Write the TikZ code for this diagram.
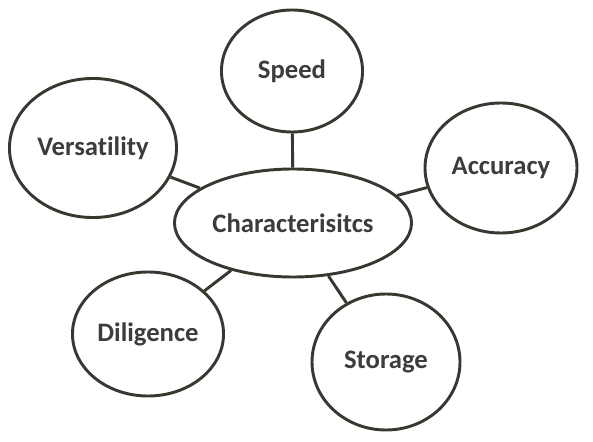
\documentclass[tikz,border=0pt]{standalone}
\usepackage{fontspec}
\setmainfont{Carlito}[Ligatures=NoCommon]
\usetikzlibrary{shapes.geometric}
\definecolor{rim}{RGB}{58,54,48}
\definecolor{ink}{RGB}{60,60,60}
\tikzset{
  bubble/.style={ellipse,draw=rim,line width=2.2pt,inner sep=0pt,
    font=\fontsize{20}{24}\selectfont\bfseries,text=ink},
  link/.style={draw=rim,line width=2.2pt}
}
\begin{document}
\begin{tikzpicture}[x=0.75pt,y=-0.75pt]
\useasboundingbox (0,0) rectangle (593,442);
\path
(293,223) node(c) [bubble,minimum width=177.8pt,minimum height=81pt] {Characterisitcs}
(292,71) node(speed) [bubble,minimum width=105.8pt,minimum height=91.5pt] {Speed}
(93,148) node(vers) [bubble,minimum width=125.3pt,minimum height=104.3pt] {Versatility}
(501,168) node(acc) [bubble,minimum width=114pt,minimum height=97.5pt] {Accuracy}
(148,334) node(dil) [bubble,minimum width=113.3pt,minimum height=93pt] {Diligence}
(386,362) node(stor) [bubble,minimum width=111pt,minimum height=102pt] {Storage};
\draw
(c) edge[link] (speed)
(c) edge[link] (vers)
(c) edge[link] (acc)
(c) edge[link] (dil)
(c) edge[link] (stor);
\end{tikzpicture}
\end{document}
